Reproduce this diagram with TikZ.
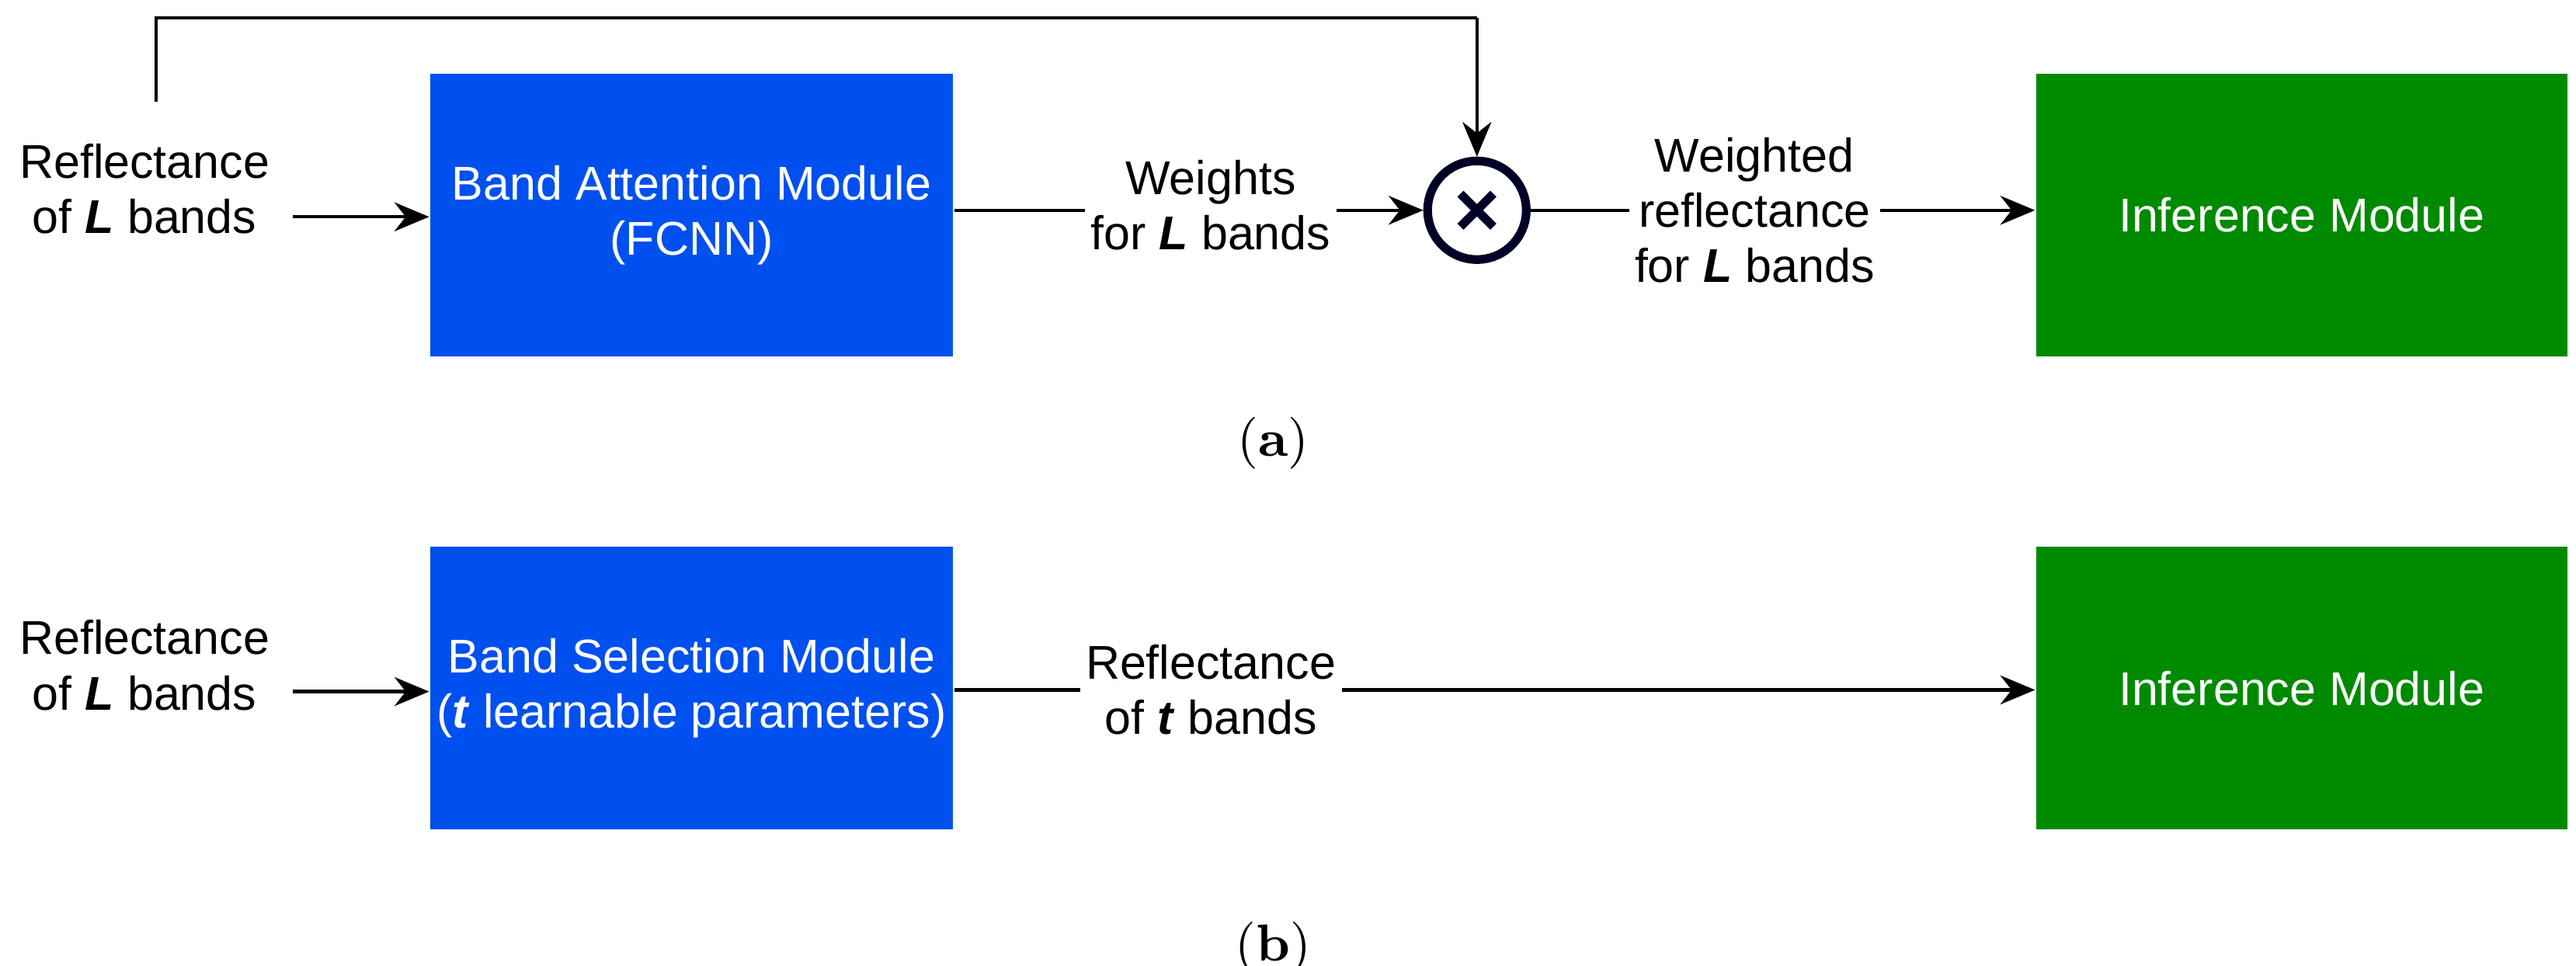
\documentclass[tikz,border=0pt]{standalone}
\usepackage{fontspec}
\setmainfont{Liberation Sans}
\newfontfamily\capfont{Latin Modern Roman}
\usetikzlibrary{arrows.meta,calc}
\definecolor{bblue}{HTML}{0050EF}
\definecolor{bgreen}{HTML}{008A00}
\begin{document}
\begin{tikzpicture}[x=0.01cm,y=-0.01cm,
  every node/.style={font=\fontsize{8.2}{9.6}\selectfont},
  box/.style={minimum width=3.18cm,minimum height=1.72cm,align=center,text=white,inner sep=0},
  arr/.style={line width=0.6pt,-{Stealth[length=6pt,width=5pt]}},
  ln/.style={line width=0.6pt},
  lab/.style={align=center,fill=white,inner sep=1pt},
  figcap/.style={font=\capfont\fontsize{9}{10}\selectfont}]
\useasboundingbox (0,0) rectangle (1568,588);
% (a)
\node[box,fill=bblue] (ba) at (421,131) {Band Attention Module\\(FCNN)};
\node[box,fill=bgreen,minimum width=3.23cm] (ia) at (1401,131) {Inference Module};
\node[align=center] (ina) at (88,115) {Reflectance\\of \textbf{\textit{L}} bands};
\node[circle,draw=black!85!blue,line width=1.5pt,minimum size=0.6cm,inner sep=0] (mul) at (899,128) {};
\draw[line width=1.5pt,black!85!blue] ($(mul)+(-10,-10)$) -- ($(mul)+(10,10)$) ($(mul)+(-10,10)$) -- ($(mul)+(10,-10)$);
\coordinate (t0) at (95,62);
\coordinate (t1) at (95,11);
\coordinate (t2) at (899,11);
\coordinate (sa) at (178,132);
\draw[arr] (sa) -- (ba.west |- sa);
\draw[ln] (t0) -- (t1) -- (t2);
\draw[arr] (t2) -- (mul.north);
\draw[arr] (ba.east |- mul) -- (mul.west);
\node[lab] (wl) at (737,125) {Weights\\for \textbf{\textit{L}} bands};
\draw[arr] (mul.east) -- (ia.west |- mul);
\node[lab] (wr) at (1068,128) {Weighted\\reflectance\\for \textbf{\textit{L}} bands};
\node[figcap] (ca) at (775,270) {(\textbf{a})};
% (b)
\node[box,fill=bblue] (bb) at (421,419) {Band Selection Module\\(\textbf{\textit{t}} learnable parameters)};
\node[box,fill=bgreen,minimum width=3.23cm] (ib) at (1401,419) {Inference Module};
\node[align=center] (inb) at (88,405) {Reflectance\\of \textbf{\textit{L}} bands};
\coordinate (sb) at (178,421);
\draw[arr] (sb) -- (bb.west |- sb);
\draw[arr] (bb.east |- 0,420) -- (ib.west |- 0,420);
\node[lab] (rt) at (737,420) {Reflectance\\of \textbf{\textit{t}} bands};
\node[figcap] (cb) at (775,577) {(\textbf{b})};
\end{tikzpicture}
\end{document}
